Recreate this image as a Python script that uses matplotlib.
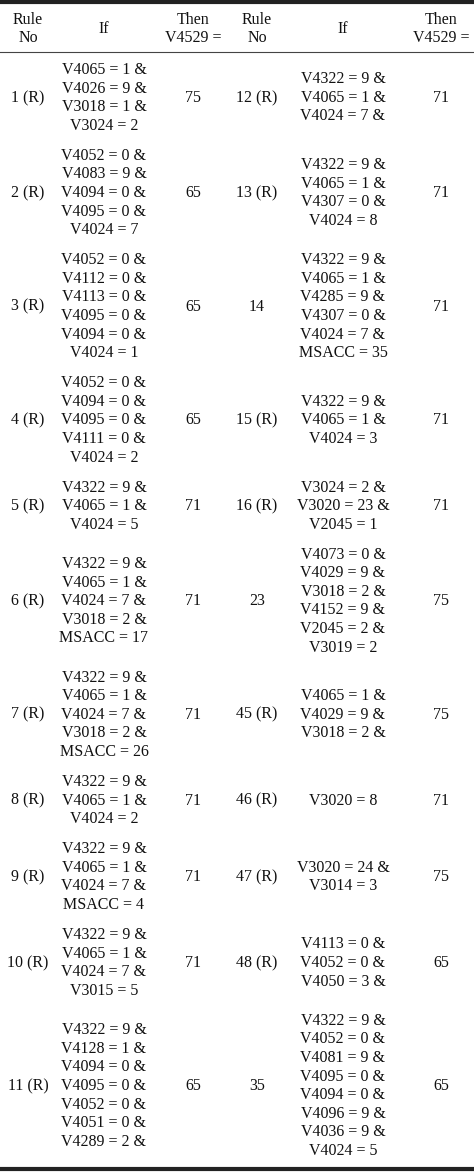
import matplotlib
matplotlib.use('Agg')
import matplotlib.pyplot as plt

rule_left = ['1 (R)', '2 (R)', '3 (R)', '4 (R)', '5 (R)', '6 (R)', '7 (R)', '8 (R)', '9 (R)', '10 (R)', '11 (R)']
if_left = [
    ['V4065 = 1 &', 'V4026 = 9 &', 'V3018 = 1 &', 'V3024 = 2'],
    ['V4052 = 0 &', 'V4083 = 9 &', 'V4094 = 0 &', 'V4095 = 0 &', 'V4024 = 7'],
    ['V4052 = 0 &', 'V4112 = 0 &', 'V4113 = 0 &', 'V4095 = 0 &', 'V4094 = 0 &', 'V4024 = 1'],
    ['V4052 = 0 &', 'V4094 = 0 &', 'V4095 = 0 &', 'V4111 = 0 &', 'V4024 = 2'],
    ['V4322 = 9 &', 'V4065 = 1 &', 'V4024 = 5'],
    ['V4322 = 9 &', 'V4065 = 1 &', 'V4024 = 7 &', 'V3018 = 2 &', 'MSACC = 17'],
    ['V4322 = 9 &', 'V4065 = 1 &', 'V4024 = 7 &', 'V3018 = 2 &', 'MSACC = 26'],
    ['V4322 = 9 &', 'V4065 = 1 &', 'V4024 = 2'],
    ['V4322 = 9 &', 'V4065 = 1 &', 'V4024 = 7 &', 'MSACC = 4'],
    ['V4322 = 9 &', 'V4065 = 1 &', 'V4024 = 7 &', 'V3015 = 5'],
    ['V4322 = 9 &', 'V4128 = 1 &', 'V4094 = 0 &', 'V4095 = 0 &', 'V4052 = 0 &', 'V4051 = 0 &', 'V4289 = 2 &'],
]
then_left = [75, 65, 65, 65, 71, 71, 71, 71, 71, 71, 65]

rule_right = ['12 (R)', '13 (R)', '14', '15 (R)', '16 (R)', '23', '45 (R)', '46 (R)', '47 (R)', '48 (R)', '35']
if_right = [
    ['V4322 = 9 &', 'V4065 = 1 &', 'V4024 = 7 &'],
    ['V4322 = 9 &', 'V4065 = 1 &', 'V4307 = 0 &', 'V4024 = 8'],
    ['V4322 = 9 &', 'V4065 = 1 &', 'V4285 = 9 &', 'V4307 = 0 &', 'V4024 = 7 &', 'MSACC = 35'],
    ['V4322 = 9 &', 'V4065 = 1 &', 'V4024 = 3'],
    ['V3024 = 2 &', 'V3020 = 23 &', 'V2045 = 1'],
    ['V4073 = 0 &', 'V4029 = 9 &', 'V3018 = 2 &', 'V4152 = 9 &', 'V2045 = 2 &', 'V3019 = 2'],
    ['V4065 = 1 &', 'V4029 = 9 &', 'V3018 = 2 &'],
    ['V3020 = 8'],
    ['V3020 = 24 &', 'V3014 = 3'],
    ['V4113 = 0 &', 'V4052 = 0 &', 'V4050 = 3 &'],
    ['V4322 = 9 &', 'V4052 = 0 &', 'V4081 = 9 &', 'V4095 = 0 &', 'V4094 = 0 &', 'V4096 = 9 &', 'V4036 = 9 &', 'V4024 = 5'],
]
then_right = [71, 71, 71, 71, 71, 75, 75, 71, 75, 65, 65]

headers = ['Rule\nNo', 'If', 'Then\nV4529 =', 'Rule\nNo', 'If', 'Then\nV4529 =']
col_x = [28, 104, 193, 257, 343, 441]

W, H = 474, 1172
fig = plt.figure(figsize=(W / 100, H / 100), dpi=100)
ax = fig.add_axes([0, 0, 1, 1])
ax.set_xlim(0, W)
ax.set_ylim(H, 0)
ax.axis('off')

font = dict(family='Liberation Serif', fontsize=11.5, color='#111111',
            ha='center', va='center')
line_h = 18.6

# rules
ax.plot([0, W], [2, 2], color='#222222', lw=3)
ax.plot([0, W], [52, 52], color='#444444', lw=0.8)
ax.plot([0, W], [1169, 1169], color='#222222', lw=3)

for x, h in zip(col_x, headers):
    ax.text(x, 29, h, linespacing=1.1, **font)

nlines = [max(len(a), len(b)) for a, b in zip(if_left, if_right)]
top, bottom = 55, 1166
pad = (bottom - top - sum(nlines) * line_h) / len(nlines)
y = top
for i, n in enumerate(nlines):
    hgt = n * line_h + pad
    yc = y + hgt / 2
    for x, block in [(col_x[1], if_left[i]), (col_x[4], if_right[i])]:
        k = len(block)
        for j, s in enumerate(block):
            ax.text(x, yc + (j - (k - 1) / 2) * line_h, s, **font)
    ax.text(col_x[0], yc, rule_left[i], **font)
    ax.text(col_x[2], yc, str(then_left[i]), **font)
    ax.text(col_x[3], yc, rule_right[i], **font)
    ax.text(col_x[5], yc, str(then_right[i]), **font)
    y += hgt

fig.savefig('out.png', dpi=100, facecolor='white')
